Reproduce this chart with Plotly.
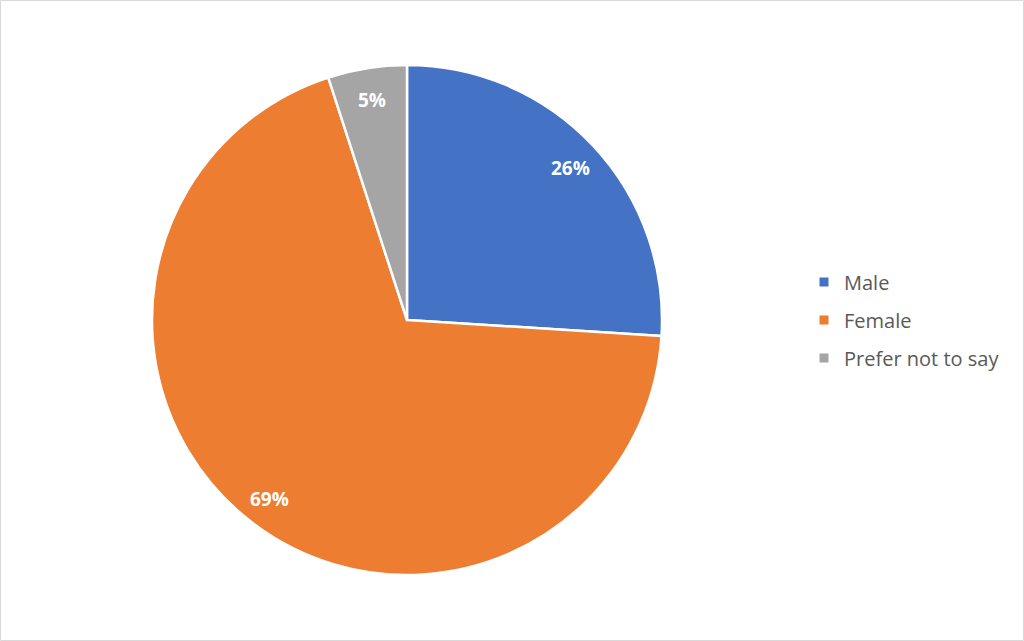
import math
import plotly.graph_objects as go

labels = ["Male", "Female", "Prefer not to say"]
values = [26, 69, 5]
colors = ["#4472C4", "#ED7D31", "#A5A5A5"]

W, H = 1024, 641
cx_px, cy_px, r_px = 407, 320, 255

fig = go.Figure()
fig.add_trace(go.Pie(
    labels=labels, values=values, sort=False, direction="clockwise", rotation=0,
    marker=dict(colors=colors, line=dict(color="white", width=2.5)),
    textinfo="none", hoverinfo="label+percent", showlegend=False,
    domain=dict(x=[(cx_px - r_px) / W, (cx_px + r_px) / W],
                y=[(H - cy_px - r_px) / H, (H - cy_px + r_px) / H]),
))

# legend entries (one group per label for spacing control)
for lab, col in zip(labels, colors):
    fig.add_trace(go.Scatter(
        x=[None], y=[None], mode="markers", name=lab, legendgroup=lab,
        marker=dict(symbol="square", size=9, color=col), showlegend=True,
    ))

# percentage labels placed along each slice's mid-angle
total = sum(values)
cum = 0
for v in values:
    mid = (cum + v / 2) / total * 2 * math.pi
    cum += v
    rr = 0.88 * r_px
    px = cx_px + rr * math.sin(mid)
    py = cy_px - rr * math.cos(mid) + 2
    fig.add_annotation(
        x=px / W, y=(H - py) / H, xref="paper", yref="paper",
        text=f"<b>{round(v / total * 100)}%</b>", showarrow=False,
        font=dict(family="Open Sans, Liberation Sans, sans-serif", size=19, color="white"),
        xanchor="center", yanchor="middle",
    )

fig.add_shape(type="rect", xref="paper", yref="paper", x0=0.0005, y0=0.0008, x1=0.9995, y1=0.9992,
              line=dict(color="#D9D9D9", width=1), fillcolor="rgba(0,0,0,0)", layer="above")

fig.update_layout(
    width=W, height=H, margin=dict(l=0, r=0, t=0, b=0),
    paper_bgcolor="white", plot_bgcolor="white",
    xaxis=dict(visible=False), yaxis=dict(visible=False),
    legend=dict(x=804 / W, y=(H - 320) / H, xanchor="left", yanchor="middle",
                font=dict(family="Open Sans, Liberation Sans, sans-serif", size=20, color="#595959"),
                tracegroupgap=9, bgcolor="rgba(0,0,0,0)"),
)

fig.write_html("out.html", config={"displayModeBar": False},
               post_script="document.body.style.margin='0px';document.body.style.overflow='hidden';")
